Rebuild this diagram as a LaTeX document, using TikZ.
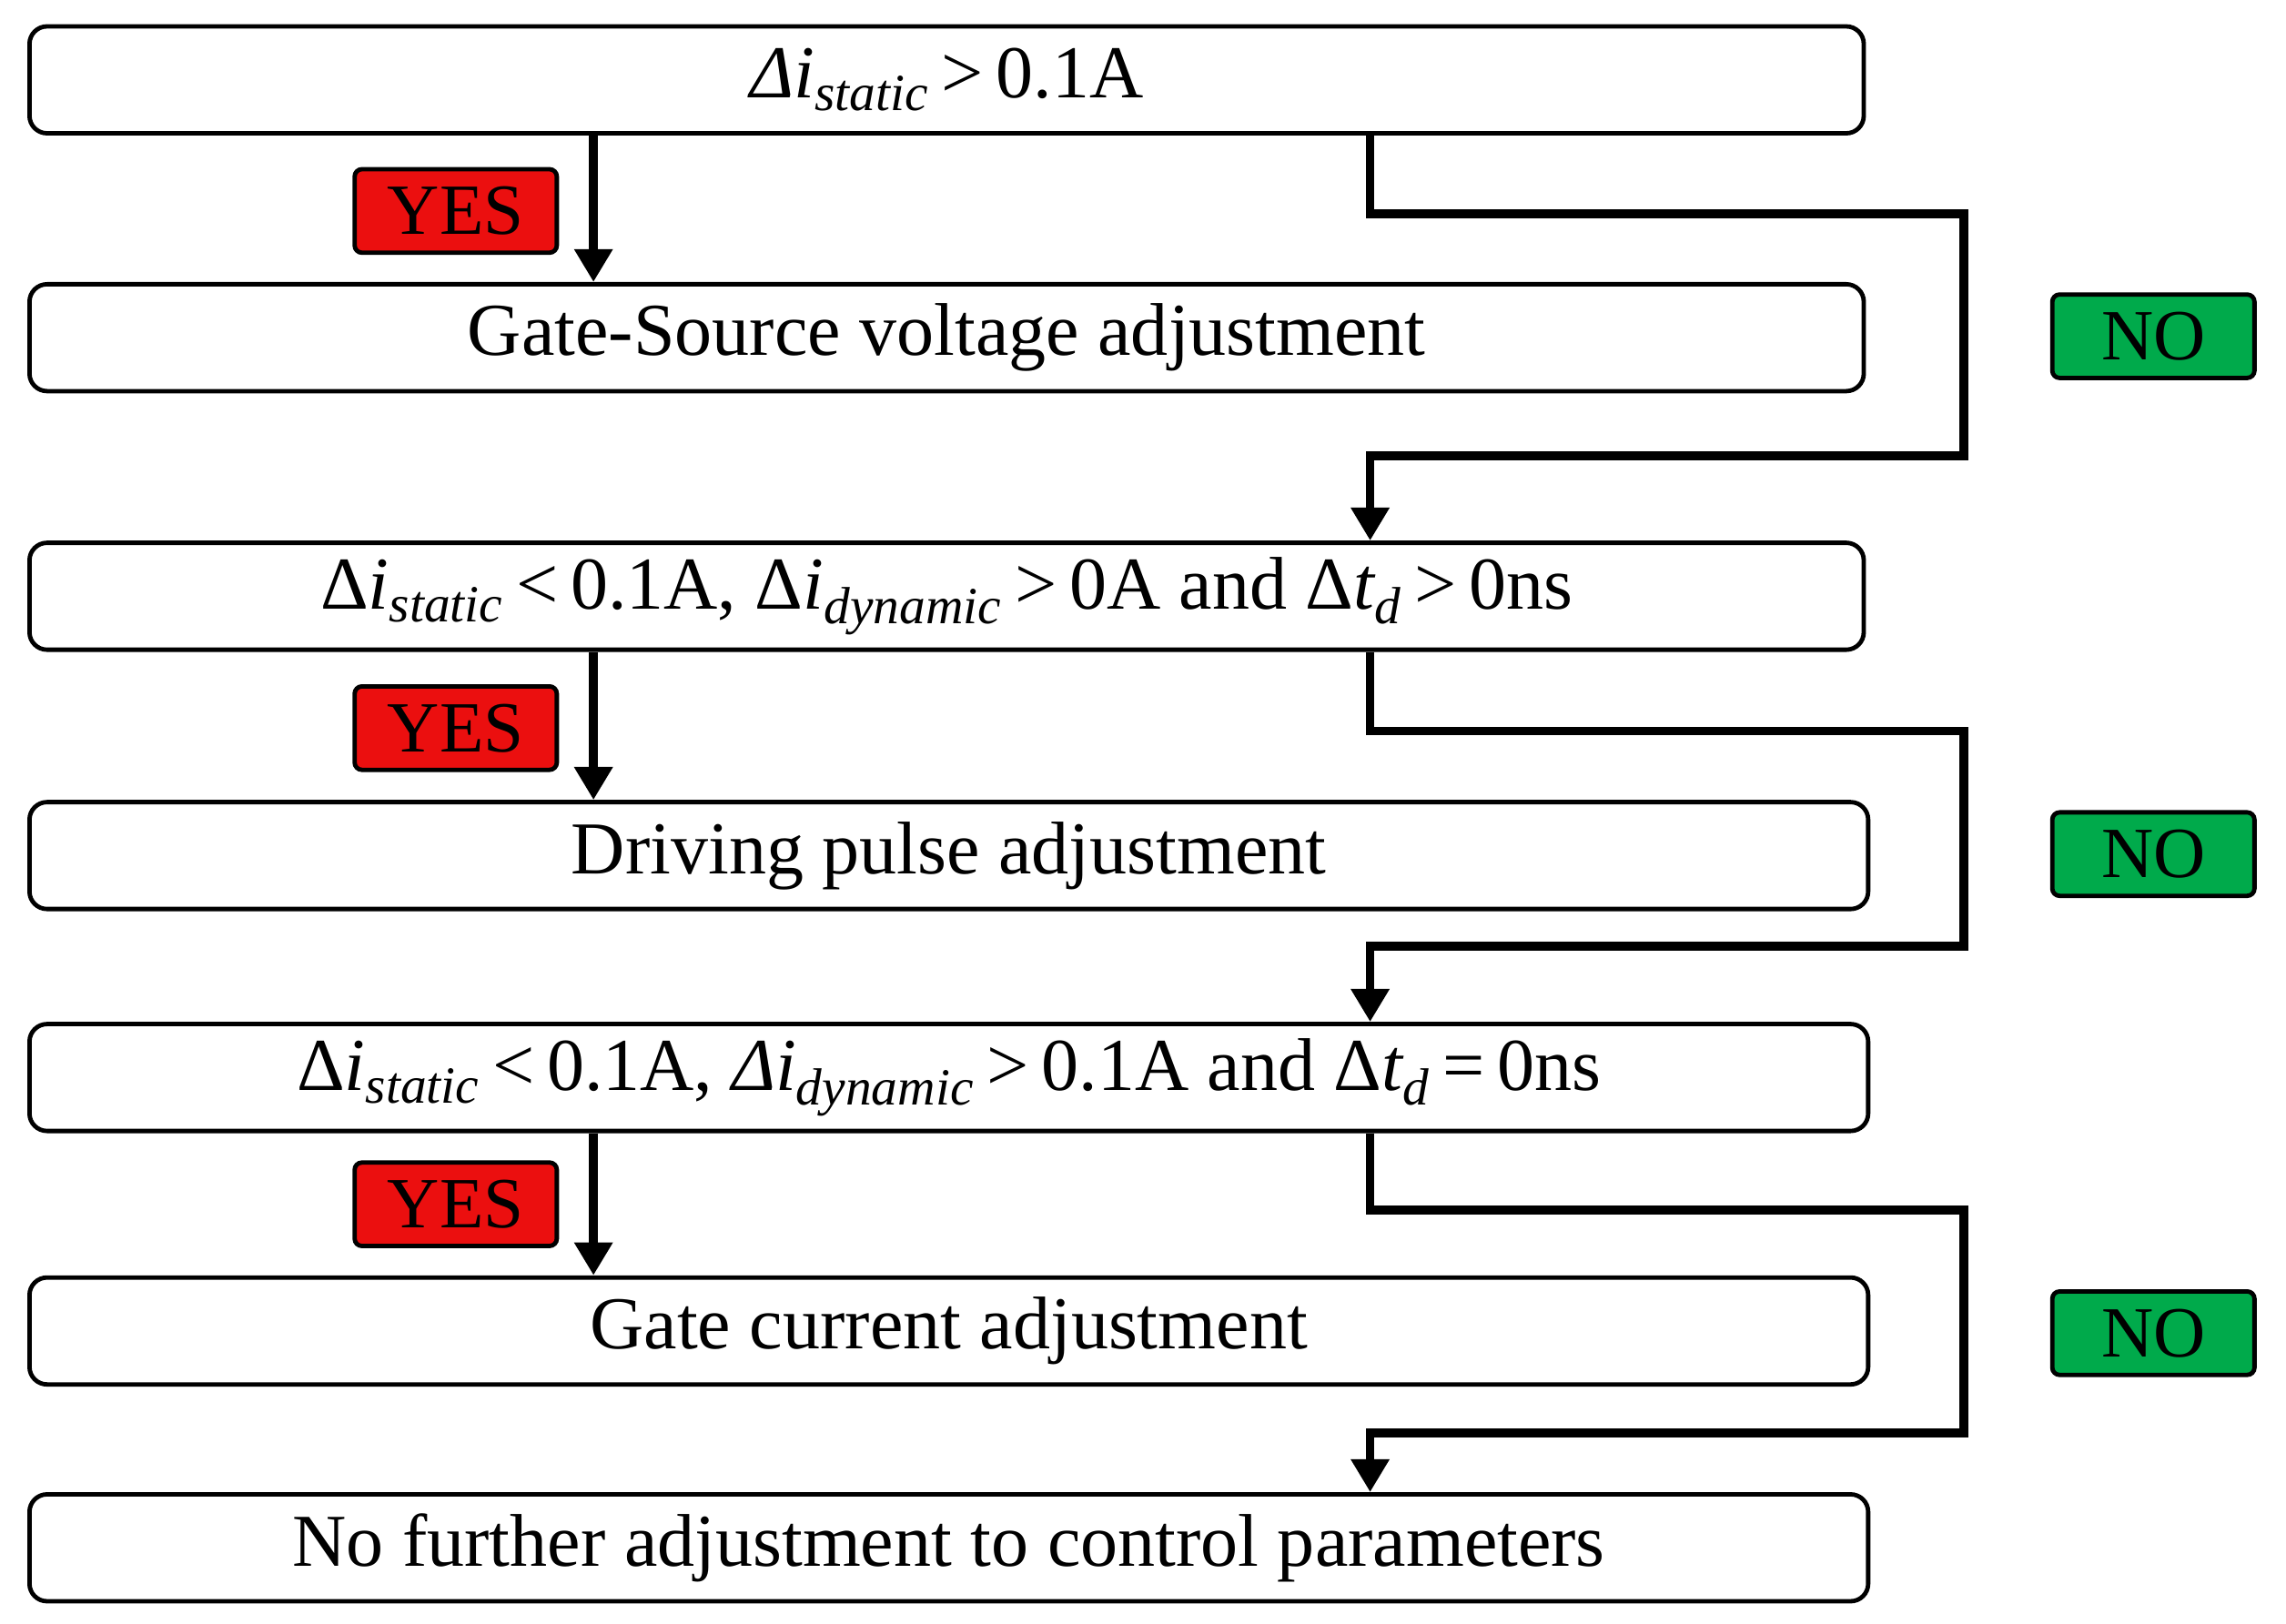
\documentclass[tikz,border=0pt]{standalone}
\usepackage{fontspec}
\setmainfont{Liberation Serif}
\usetikzlibrary{arrows.meta}
\definecolor{ngreen}{RGB}{0,170,75}
\definecolor{nred}{RGB}{235,15,15}
\newcommand{\dl}[2]{Δ{\itshape #1}\textsubscript{\itshape #2}}
\newcommand{\dli}[2]{{\itshape Δ#1}\textsubscript{\itshape #2}}
\begin{document}
\begin{tikzpicture}[x=0.02cm,y=-0.02cm,
 box/.style={draw,line width=1.7pt,rounded corners=0.24cm,minimum height=1.46cm,font=\fontsize{29}{34}\selectfont,inner sep=0pt},
 tag/.style={draw,line width=1.7pt,rounded corners=0.1cm,minimum width=2.76cm,minimum height=1.14cm,font=\fontsize{28}{32}\selectfont,inner sep=0pt},
 yes/.style={tag,fill=nred},
 no/.style={tag,fill=ngreen},
 arr/.style={line width=3.4pt,line join=miter,-{Triangle[length=0.45cm,width=0.5cm]}}]
\useasboundingbox (0,0) rectangle (1560,1108);
\node[box,minimum width=25.04cm] (B1) at (646,54.5) {\dli{i}{static}\,>\,0.1A};
\node[box,minimum width=25.04cm] (B2) at (646,230.5) {Gate-Source voltage adjustment};
\node[box,minimum width=25.04cm] (B3) at (646,407) {\dl{i}{static}\,<\,0.1A, \dl{i}{dynamic}\,>\,0A and \dl{t}{d}\,>\,0ns};
\node[box,minimum width=25.1cm] (B4) at (647.5,584) {Driving pulse adjustment};
\node[box,minimum width=25.1cm] (B5) at (647.5,735.5) {\dl{i}{static}\,<\,0.1A, \dli{i}{dynamic}\,>\,0.1A and \dl{t}{d}\,=\,0ns};
\node[box,minimum width=25.1cm] (B6) at (647.5,908.5) {Gate current adjustment};
\node[box,minimum width=25.1cm] (B7) at (647.5,1056.5) {No further adjustment to control parameters};
\node[yes] (Y1) at (311,144) {YES};
\node[yes] (Y2) at (311,497) {YES};
\node[yes] (Y3) at (311,822) {YES};
\node[no] (N1) at (1469.5,229.5) {NO};
\node[no] (N2) at (1469.5,583) {NO};
\node[no] (N3) at (1469.5,910) {NO};
\coordinate (ax) at (405,0);
\coordinate (nx) at (935,0);
\coordinate (rx) at (1340,0);
\draw[arr] (B1.south -| ax) -- (B2.north -| ax);
\draw[arr] (B3.south -| ax) -- (B4.north -| ax);
\draw[arr] (B5.south -| ax) -- (B6.north -| ax);
\draw[arr] (B1.south -| nx) |- (1340,146) |- (935,311) -- (B3.north -| nx);
\draw[arr] (B3.south -| nx) |- (1340,499) |- (935,646) -- (B5.north -| nx);
\draw[arr] (B5.south -| nx) |- (1340,826) |- (935,978) -- (B7.north -| nx);
\end{tikzpicture}
\end{document}
